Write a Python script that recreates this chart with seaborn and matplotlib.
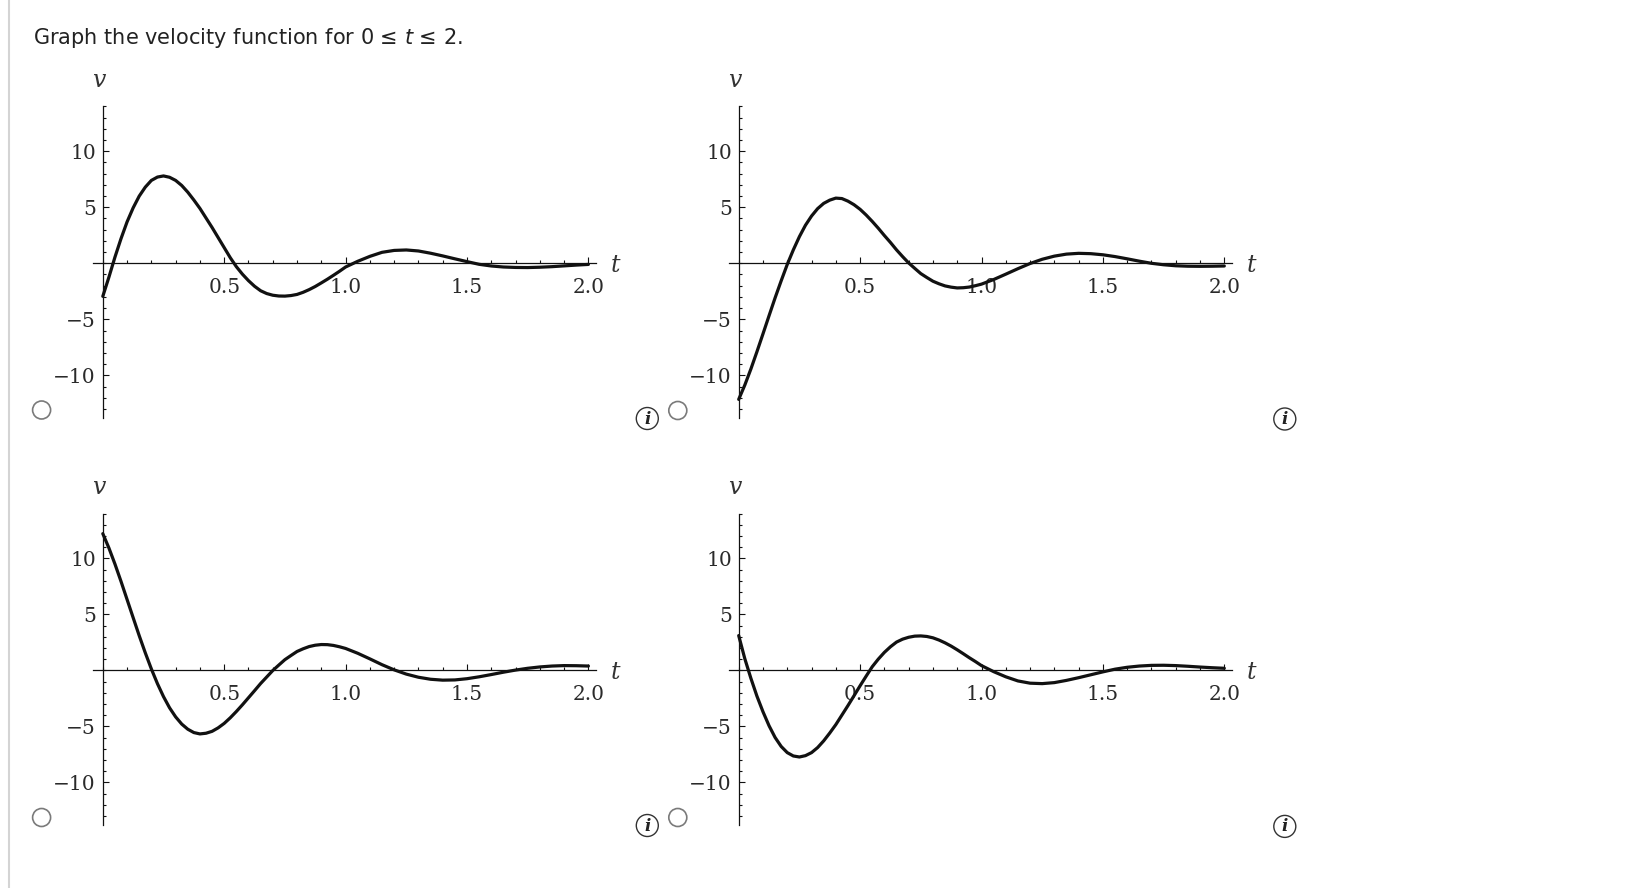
import numpy as np
import matplotlib
matplotlib.use("Agg")
import matplotlib.pyplot as plt
import seaborn as sns
from matplotlib.patches import Circle
from matplotlib.ticker import FixedLocator, FixedFormatter, MultipleLocator

# sample times: every 0.025 up to t=1, then every 0.05
t = np.r_[np.linspace(0, 1, 41), np.linspace(1.05, 2, 20)]

v_a = [-2.95, -1.25, 0.55, 2.2, 3.7, 4.95, 6.0, 6.8, 7.4, 7.7, 7.8, 7.68, 7.4, 6.95,
       6.35, 5.65, 4.9, 4.05, 3.2, 2.3, 1.4, 0.5, -0.3, -0.97, -1.55, -2.05, -2.45,
       -2.7, -2.85, -2.92, -2.93, -2.88, -2.78, -2.59, -2.35, -2.07, -1.75, -1.42,
       -1.07, -0.71, -0.33,
       0.18, 0.62, 0.98, 1.15, 1.19, 1.1, 0.9, 0.66, 0.4, 0.15, -0.09, -0.24, -0.33,
       -0.37, -0.38, -0.35, -0.3, -0.23, -0.16, -0.1]
v_b = [-12.15, -10.88, -9.45, -7.9, -6.3, -4.68, -3.08, -1.56, -0.1, 1.2, 2.38, 3.4,
       4.22, 4.88, 5.35, 5.64, 5.82, 5.78, 5.55, 5.23, 4.82, 4.31, 3.74, 3.13, 2.48,
       1.86, 1.2, 0.6, 0.03, -0.45, -0.92, -1.27, -1.6, -1.83, -2.02, -2.13, -2.2,
       -2.18, -2.12, -2.0, -1.86,
       -1.45, -0.97, -0.48, -0.02, 0.36, 0.64, 0.82, 0.89, 0.86, 0.76, 0.6, 0.4, 0.19,
       0.0, -0.13, -0.22, -0.26, -0.27, -0.26, -0.24]
v_c = [12.2, 10.93, 9.49, 7.94, 6.32, 4.70, 3.09, 1.56, 0.12, -1.19, -2.35, -3.35,
       -4.16, -4.80, -5.26, -5.56, -5.68, -5.62, -5.45, -5.14, -4.74, -4.24, -3.68,
       -3.08, -2.45, -1.82, -1.18, -0.60, -0.02, 0.47, 0.95, 1.32, 1.68, 1.92, 2.12,
       2.24, 2.3, 2.29, 2.22, 2.1, 1.95,
       1.52, 1.02, 0.5, 0.04, -0.34, -0.62, -0.8, -0.88, -0.86, -0.75, -0.58, -0.38,
       -0.17, 0.02, 0.18, 0.3, 0.38, 0.42, 0.41, 0.38]
v_d = [3.1, 1.05, -0.7, -2.3, -3.7, -4.95, -6.0, -6.8, -7.35, -7.65, -7.74, -7.62,
       -7.35, -6.9, -6.3, -5.6, -4.85, -4.0, -3.15, -2.27, -1.38, -0.52, 0.32, 1.0,
       1.6, 2.1, 2.52, 2.78, 2.95, 3.05, 3.07, 3.02, 2.9, 2.7, 2.45, 2.16, 1.83, 1.48,
       1.12, 0.78, 0.42,
       -0.12, -0.58, -0.95, -1.15, -1.19, -1.1, -0.9, -0.66, -0.4, -0.14, 0.1, 0.27,
       0.38, 0.44, 0.45, 0.42, 0.36, 0.29, 0.23, 0.18]
curves = [v_a, v_b, v_c, v_d]

x_ticks = [0.5, 1.0, 1.5, 2.0]
x_tick_labels = ["0.5", "1.0", "1.5", "2.0"]
y_ticks = [-10, -5, 5, 10]
y_tick_labels = ["\u221210", "\u22125", "5", "10"]

title = "Graph the velocity function for 0 \u2264 $t$ \u2264 2."

sns.set_style("white")
plt.rcParams["font.family"] = ["DejaVu Sans"]

W, H = 1630, 888
fig = plt.figure(figsize=(W / 100, H / 100), dpi=100)


def px_axes(left, top, width, height):
    return fig.add_axes([left / W, 1 - (top + height) / H, width / W, height / H])


T_MIN, T_MAX = -0.042, 2.031
V_MIN, V_MAX = -13.85, 14.0
PX_T, PX_V = 242.8, 11.2

# pixel position of the origin of each graph
origins = [(102.8, 263.3), (738.7, 263.3), (102.8, 670.3), (738.7, 670.3)]

for (ox, oy), v in zip(origins, curves):
    ax = px_axes(ox + T_MIN * PX_T, oy - V_MAX * PX_V,
                 (T_MAX - T_MIN) * PX_T, (V_MAX - V_MIN) * PX_V)
    ax.set_facecolor("none")
    sns.lineplot(x=t, y=v, ax=ax, color="#111111", linewidth=2.3)
    for line in ax.get_lines():
        line.set_solid_joinstyle("round")
        line.set_solid_capstyle("round")
    ax.set_xlim(T_MIN, T_MAX)
    ax.set_ylim(V_MIN, V_MAX)
    ax.set_xlabel("")
    ax.set_ylabel("")

    for s in ["top", "right"]:
        ax.spines[s].set_visible(False)
    for s in ["left", "bottom"]:
        ax.spines[s].set_position(("data", 0))
        ax.spines[s].set_color("#111111")
        ax.spines[s].set_linewidth(0.9)

    ax.xaxis.set_major_locator(FixedLocator(x_ticks))
    ax.xaxis.set_major_formatter(FixedFormatter(x_tick_labels))
    ax.xaxis.set_minor_locator(MultipleLocator(0.1))
    ax.yaxis.set_major_locator(FixedLocator(y_ticks))
    ax.yaxis.set_major_formatter(FixedFormatter(y_tick_labels))
    ax.yaxis.set_minor_locator(MultipleLocator(1))

    ax.tick_params(which="both", direction="in", bottom=True, left=True,
                   top=False, right=False, color="#111111", width=0.8,
                   labelsize=14.5, labelcolor="#2a2a2a", labelfontfamily="DejaVu Serif")
    ax.tick_params(which="major", length=4.2)
    ax.tick_params(which="minor", length=2.4)
    ax.tick_params(axis="x", which="major", pad=10.5)
    ax.tick_params(axis="y", which="major", pad=5)

    ax.text(-0.017, 15.7, "v", ha="center", va="baseline", fontsize=17,
            family="DejaVu Serif", style="italic", color="#333333")
    ax.text(2.11, -0.78, "t", ha="center", va="baseline", fontsize=17,
            family="DejaVu Serif", style="italic", color="#333333")

fig.text(33 / W, 1 - 44.3 / H, title, fontsize=15, color="#222222", va="baseline")

# page decorations: radio buttons, info icons, left rule
ov = fig.add_axes([0, 0, 1, 1])
ov.set_xlim(0, W)
ov.set_ylim(H, 0)
ov.axis("off")
ov.axvline(8.5, color="#d4d4d4", linewidth=1.5)

radios = [(41.6, 410), (677.8, 410.5), (41.6, 817.5), (677.8, 817.5)]
infos = [(647.3, 418.5), (1284.8, 419), (647.3, 825.5), (1284.8, 826.4)]
for x, y in radios:
    ov.add_patch(Circle((x, y), 9, fill=False, ec="#7a7a7a", lw=1.2))
for x, y in infos:
    ov.add_patch(Circle((x, y), 11, fill=False, ec="#333333", lw=1.0))
    ov.text(x, y + 0.5, "i", ha="center", va="center", fontsize=12,
            family="DejaVu Serif", style="italic", weight="bold", color="#222222")

fig.savefig("out.png", dpi=100)
